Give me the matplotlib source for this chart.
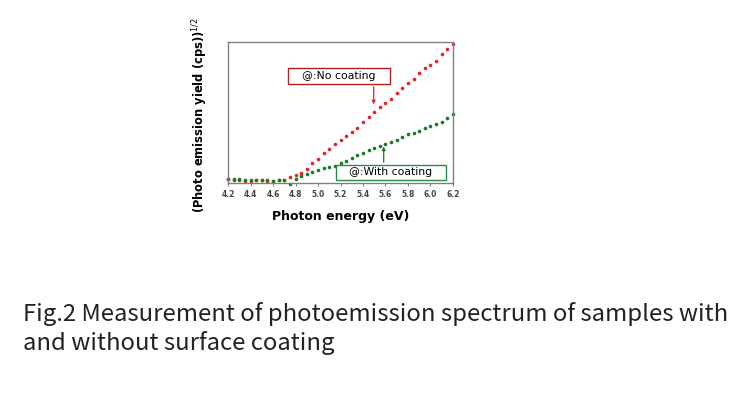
import numpy as np
import matplotlib
matplotlib.use('Agg')
from matplotlib import pyplot as plt
from matplotlib.patches import Rectangle

# photon energy (eV), 0.05 eV steps
energy = np.round(np.arange(4.20, 6.2001, 0.05), 2)

# sqrt of yield, arbitrary units
no_coating = [3.2, 2.7, 2.2, 1.7, 1.7, 2.2, 2.2, 1.7, 1.7, 2.2, 2.7, 5.4,
              7.7, 9.4, 13.4, 19.4, 23.7, 29.4, 33.4, 38.7, 42.7, 46.7, 50.7,
              55.0, 61.0, 66.0, 71.0, 75.7, 80.0, 83.7, 89.4, 94.4, 99.4,
              103.7, 109.4, 114.4, 117.7, 122.0, 128.7, 133.4, 138.7]
with_coating = [3.2, 3.4, 3.2, 3.0, 3.0, 2.7, 2.4, 2.2, 2.0, 2.2, 2.7, -1.3,
                3.7, 7.0, 8.7, 11.0, 12.7, 14.4, 15.7, 17.0, 20.0, 21.7, 24.4,
                27.7, 29.4, 32.7, 34.4, 36.7, 38.7, 41.0, 42.7, 46.0, 48.7,
                50.0, 52.0, 54.4, 56.7, 58.7, 61.0, 64.4, 68.7]
xticks = [4.2, 4.4, 4.6, 4.8, 5.0, 5.2, 5.4, 5.6, 5.8, 6.0, 6.2]

red = '#e0252b'
green = '#1a7a24'

fig = plt.figure(figsize=(7.42, 3.95), dpi=100)
ax = fig.add_axes([0.3073, 0.5375, 0.3032, 0.357])

ax.plot(energy, no_coating, 'o', color=red, ms=2.6, mew=0, clip_on=False)
ax.plot(energy, with_coating, 'o', color=green, ms=2.6, mew=0, clip_on=False)

ax.set_xlim(4.2, 6.2)
ax.set_ylim(0, 141)
ax.set_xticks(xticks)
ax.set_xticklabels(['%.1f' % t for t in xticks], fontsize=5.5, fontweight='bold', color='#444444')
ax.set_yticks([])
ax.tick_params(axis='x', length=2.5, width=0.8, color='#808080', pad=3)
for s in ax.spines.values():
    s.set_color('#808080')
    s.set_linewidth(1.0)

ax.set_xlabel('Photon energy (eV)', fontsize=9, fontweight='bold', labelpad=8)
fig.text(0.2695, 0.709, '(Photo emission yield (cps))$^{1/2}$', rotation=90,
         fontsize=8.3, fontweight='bold', ha='center', va='center')

# call-out boxes
ax.annotate('', xy=(5.495, 75.5), xytext=(5.495, 98.7),
            arrowprops=dict(arrowstyle='-|>', color=red, lw=0.9, mutation_scale=5))
ax.add_patch(Rectangle((4.731, 98.7), 0.907, 16.0, fc='white', ec='#b02020', lw=1.0, zorder=3))
ax.text(5.18, 106.7, '@:No coating', fontsize=7.8, ha='center', va='center', zorder=4)

ax.annotate('', xy=(5.584, 39), xytext=(5.584, 17.7),
            arrowprops=dict(arrowstyle='-|>', color=green, lw=0.9, mutation_scale=5))
ax.add_patch(Rectangle((5.158, 2.7), 0.978, 15.0, fc='white', ec='#2a8a4a', lw=1.0, zorder=3))
ax.text(5.647, 10.2, '@:With coating', fontsize=7.8, ha='center', va='center', zorder=4)

# caption (baseline is the last line)
fig.text(0.031, 0.114, 'Fig.2 Measurement of photoemission spectrum of samples with\nand without surface coating',
         fontsize=17.2, family=['Noto Sans CJK JP', 'DejaVu Sans'], color='#222222',
         ha='left', va='baseline', linespacing=1.27)

fig.savefig('out.png', dpi=100)
